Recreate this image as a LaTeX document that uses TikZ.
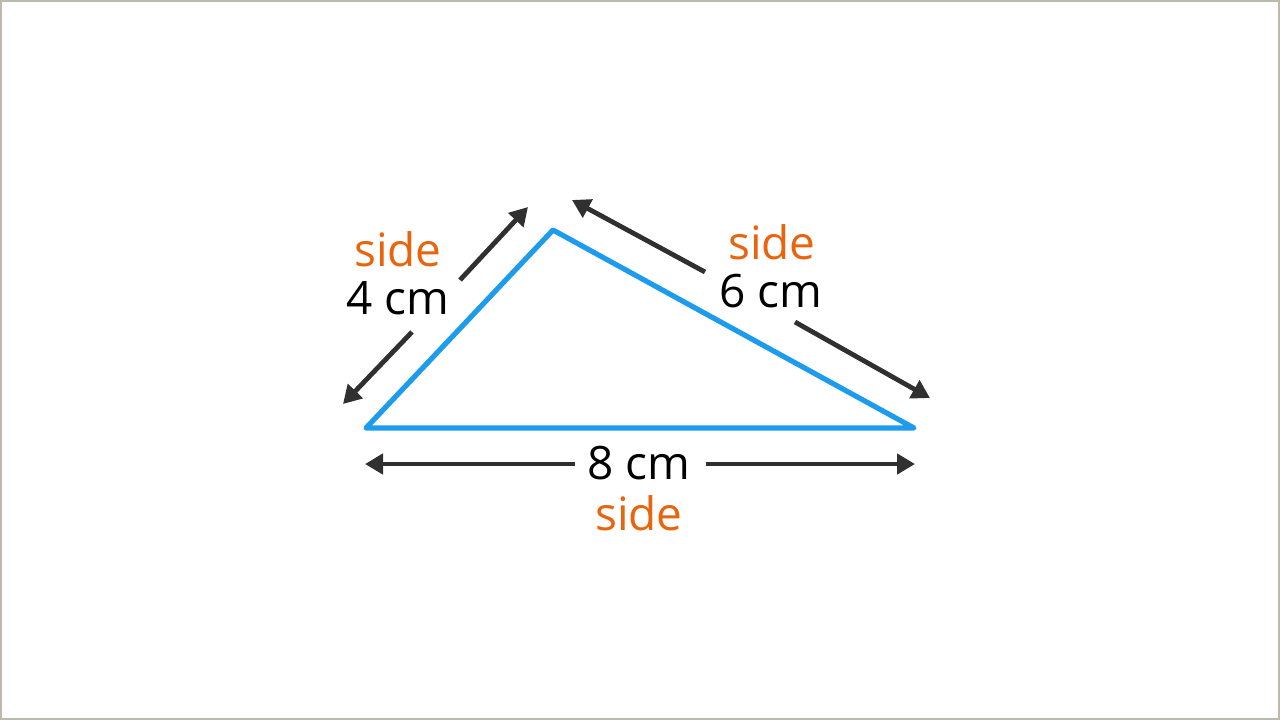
\documentclass[tikz,border=0pt]{standalone}
\usepackage{fontspec}
\setmainfont{Open Sans}
\usetikzlibrary{arrows.meta}
\definecolor{sideblue}{RGB}{29,155,236}
\definecolor{sideorange}{RGB}{232,101,14}
\definecolor{dimgrey}{RGB}{48,48,48}
\definecolor{framegrey}{RGB}{190,185,175}
\tikzset{%
  trishape/.style={draw=sideblue,line width=2.6pt,line join=round,line cap=round},
  dimline/.style={draw=dimgrey,line width=2.4pt,-{Triangle[length=9pt,width=10pt]}},
  sidetext/.style={text=sideorange,inner sep=0pt,font=\fontsize{23}{27}\selectfont},
  lentext/.style={text=black,inner sep=0pt,font=\fontsize{23}{27}\selectfont}
}
\begin{document}
\begin{tikzpicture}[x=0.5pt,y=-0.5pt]
  \useasboundingbox (0,0) rectangle (1280,720);
  \draw[framegrey,line width=1.2pt] (1,1) rectangle (1279,719);

  % triangle
  \coordinate (A) at (366,428);
  \coordinate (B) at (553,230);
  \coordinate (C) at (914,428);
  \draw[trishape] (A) -- (B) -- (C) -- cycle;

  % left side
  \coordinate (ltip1) at (343,404);
  \coordinate (lgap1) at (412,332);
  \coordinate (lgap2) at (460,280);
  \coordinate (ltip2) at (528,207);
  \draw[dimline] (lgap1) -- (ltip1);
  \draw[dimline] (lgap2) -- (ltip2);
  \node[sidetext] (lside) at (398,249) {side};
  \node[lentext] (llen) at (398,298) {4 cm};

  % right side
  \coordinate (rtip1) at (572,200);
  \coordinate (rgap1) at (705,272);
  \coordinate (rgap2) at (795,322);
  \coordinate (rtip2) at (930,398);
  \draw[dimline] (rgap1) -- (rtip1);
  \draw[dimline] (rgap2) -- (rtip2);
  \node[sidetext] (rside) at (772,242) {side};
  \node[lentext] (rlen) at (771,291) {6 cm};

  % bottom side
  \coordinate (btip1) at (365,464);
  \coordinate (bgap1) at (575,464);
  \coordinate (bgap2) at (706,464);
  \coordinate (btip2) at (915,464);
  \draw[dimline] (bgap1) -- (btip1);
  \draw[dimline] (bgap2) -- (btip2);
  \node[lentext] (blen) at (639,463) {8 cm};
  \node[sidetext] (bside) at (639,513) {side};
\end{tikzpicture}
\end{document}
